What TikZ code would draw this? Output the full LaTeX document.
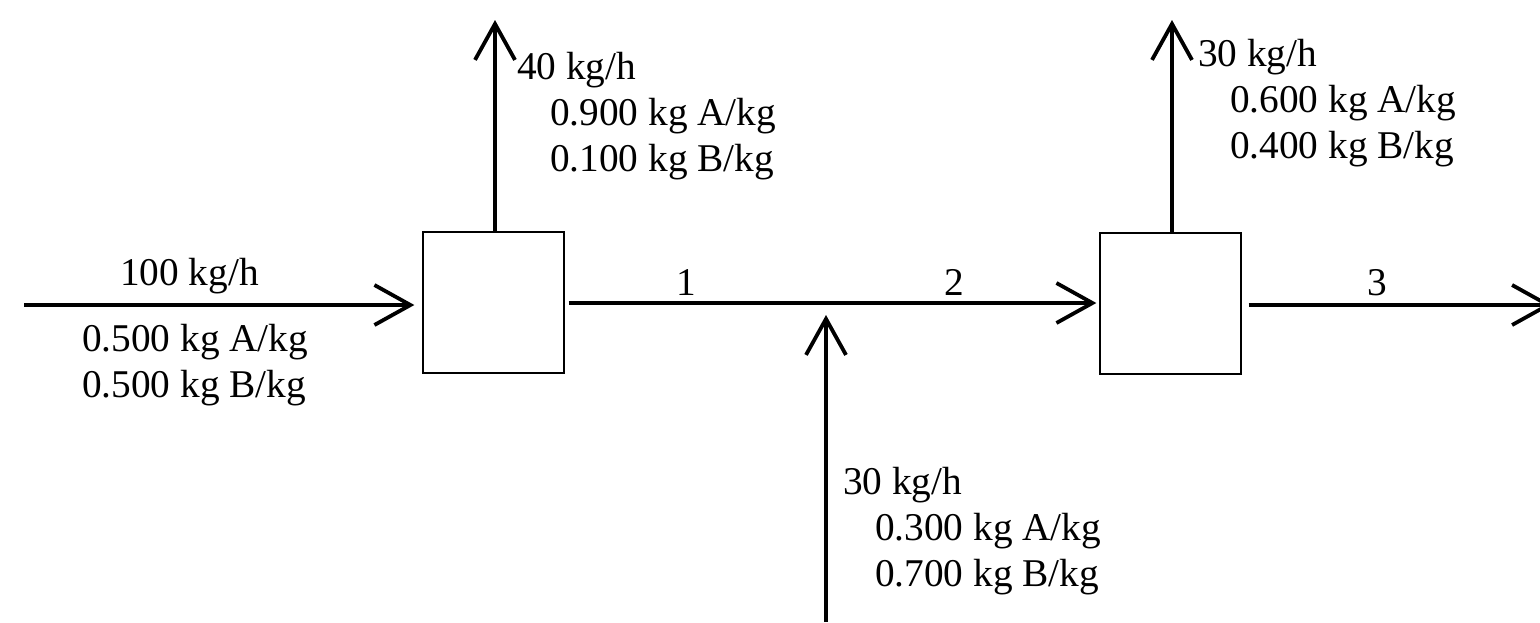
\documentclass[tikz,border=0pt]{standalone}
\usepackage{fontspec}
\setmainfont{Liberation Serif}
\usetikzlibrary{arrows.meta}
\tikzset{
  unitbox/.style={draw, line width=1.3pt, minimum width=141pt, minimum height=141pt, inner sep=0pt},
  stream/.style={line width=3.8pt, -{Straight Barb[length=36pt,width=40pt]}},
  lbl/.style={anchor=base west, inner sep=0pt, font=\fontsize{39.3}{45}\selectfont},
  num/.style={anchor=base, inner sep=0pt, font=\fontsize{39.3}{45}\selectfont},
}
\begin{document}
\begin{tikzpicture}[x=1pt,y=-1pt]
\useasboundingbox (0,0) rectangle (1540,622);
% units
\node[unitbox] (u1) at (493.5,302.5) {};
\node[unitbox] (u2) at (1170.5,303.5) {};
% free ends
\coordinate (feed) at (24,305);
\coordinate (top1) at (495,20);
\coordinate (top2) at (1172,20);
\coordinate (bot) at (826,622);
\coordinate (bottip) at (826,315);
\coordinate (out3) at (1552,305);
% streams
\draw[stream, shorten >=8pt] (feed) -- (feed -| u1.west);
\draw[stream, shorten <=4pt, shorten >=3pt] (u1.east |- 0,303) -- (u2.west |- 0,303);
\draw[stream, shorten <=7pt] (u2.east |- out3) -- (out3);
\draw[stream] (u1.north -| top1) -- (top1);
\draw[stream] (u2.north -| top2) -- (top2);
\draw[stream] (bot) -- (bottip);
% labels
\node[lbl] (f1) at (120,285) {100 kg/h};
\node[lbl] (f2) at (82,351) {0.500 kg A/kg};
\node[lbl] (f3) at (82,397) {0.500 kg B/kg};
\node[lbl] (t1) at (517,79) {40 kg/h};
\node[lbl] (t2) at (550,125) {0.900 kg A/kg};
\node[lbl] (t3) at (550,171) {0.100 kg B/kg};
\node[lbl] (r1) at (1198,66) {30 kg/h};
\node[lbl] (r2) at (1230,112) {0.600 kg A/kg};
\node[lbl] (r3) at (1230,158) {0.400 kg B/kg};
\node[lbl] (b1) at (843,494) {30 kg/h};
\node[lbl] (b2) at (875,540) {0.300 kg A/kg};
\node[lbl] (b3) at (875,586) {0.700 kg B/kg};
\node[num] (n1) at (686,295) {1};
\node[num] (n2) at (954,295) {2};
\node[num] (n3) at (1377,295) {3};
\end{tikzpicture}
\end{document}
